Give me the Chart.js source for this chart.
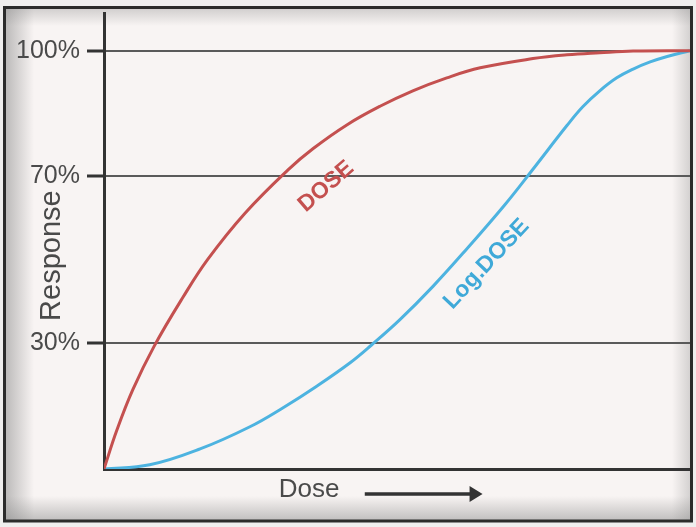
<!DOCTYPE html>
<html>
<head>
<meta charset="utf-8">
<script src="https://cdn.jsdelivr.net/npm/chart.js@4.4.1/dist/chart.umd.min.js"></script>
<style>
  html, body { margin: 0; padding: 0; background: #efeeee; }
  #wrap { width: 696px; height: 527px; }
</style>
</head>
<body>
<div id="wrap"><canvas id="chart"></canvas></div>
<script>
// y axis ticks
const yTickValues = [30, 70, 100];
const yTickLabels = ['30%', '70%', '100%'];

// names of the two curves
const seriesNames = ['DOSE', 'Log.DOSE'];
const axisTitles = ['Dose', 'Response'];

// red curve (response vs dose)
const doseX = [0, 2.2, 4.9, 8.5, 13.5, 17.7, 24.1, 31.4, 35.7, 41.5, 47.1, 52.7, 58.5, 64.2, 73.2, 79, 84.6, 90.3, 100];
const doseY = [0, 9.3, 18.9, 29.2, 41.1, 50.1, 61.2, 71.5, 76.6, 82.3, 86.7, 90.4, 93.5, 95.9, 98.1, 99, 99.5, 99.9, 100];

// blue curve (response vs log dose)
const logDoseX = [0, 7.8, 16.4, 24.9, 30.5, 36.3, 42, 45.7, 50.5, 56.1, 61.9, 68.3, 73, 79, 81.7, 84.6, 87.5, 90.3, 93.2, 96.1, 100];
const logDoseY = [0, 1.0, 4.8, 10.1, 14.6, 19.8, 25.4, 29.7, 35.7, 43.6, 52.6, 63, 71.3, 82.1, 86.6, 90.4, 93.5, 95.6, 97.3, 98.6, 100];

const RED = '#c4504f';
const BLUE = '#4db3e0';
const FONT = '"Liberation Sans", Arial, sans-serif';

const toPoints = (xs, ys) => xs.map((x, i) => ({ x, y: ys[i] }));

// paper background with soft shading at the edges
const paperBackground = {
  id: 'paperBackground',
  beforeDraw(chart) {
    const { ctx, width, height } = chart;
    ctx.save();
    ctx.fillStyle = '#efeeee';
    ctx.fillRect(0, 0, width, height);
    ctx.fillStyle = '#f8f4f3';
    ctx.fillRect(5, 8, 686, 512);

    let g = ctx.createLinearGradient(6, 0, 34, 0);
    g.addColorStop(0, 'rgba(140,140,140,0.55)');
    g.addColorStop(1, 'rgba(140,140,140,0)');
    ctx.fillStyle = g;
    ctx.fillRect(6, 8, 28, 512);

    g = ctx.createLinearGradient(0, 520, 0, 496);
    g.addColorStop(0, 'rgba(140,140,140,0.5)');
    g.addColorStop(1, 'rgba(140,140,140,0)');
    ctx.fillStyle = g;
    ctx.fillRect(6, 496, 685, 24);

    g = ctx.createLinearGradient(0, 9, 0, 26);
    g.addColorStop(0, 'rgba(140,140,140,0.35)');
    g.addColorStop(1, 'rgba(140,140,140,0)');
    ctx.fillStyle = g;
    ctx.fillRect(6, 9, 685, 17);

    g = ctx.createLinearGradient(691, 0, 672, 0);
    g.addColorStop(0, 'rgba(140,140,140,0.35)');
    g.addColorStop(1, 'rgba(140,140,140,0)');
    ctx.fillStyle = g;
    ctx.fillRect(672, 8, 19, 512);
    ctx.restore();
  },
};

// axis titles, arrow, curve labels and the outer frame
const decorations = {
  id: 'decorations',
  afterDraw(chart) {
    const { ctx, chartArea, scales: { x, y } } = chart;
    ctx.save();
    ctx.textAlign = 'center';
    ctx.textBaseline = 'middle';

    // y title
    ctx.fillStyle = '#4a4a4a';
    ctx.font = `29px ${FONT}`;
    ctx.save();
    ctx.translate(chartArea.left - 52, y.getPixelForValue(51));
    ctx.rotate(-Math.PI / 2);
    ctx.fillText(axisTitles[1], 0, 0);
    ctx.restore();

    // x title + arrow
    ctx.font = `26px ${FONT}`;
    const titleY = chartArea.bottom + 21;
    ctx.fillText(axisTitles[0], x.getPixelForValue(35), titleY);
    const ax0 = x.getPixelForValue(44.5);
    const ax1 = x.getPixelForValue(64.6);
    ctx.strokeStyle = '#333';
    ctx.lineWidth = 3.5;
    ctx.beginPath();
    ctx.moveTo(ax0, titleY + 4);
    ctx.lineTo(ax1 - 10, titleY + 4);
    ctx.stroke();
    ctx.fillStyle = '#333';
    ctx.beginPath();
    ctx.moveTo(ax1, titleY + 4);
    ctx.lineTo(ax1 - 13, titleY - 4);
    ctx.lineTo(ax1 - 13, titleY + 12);
    ctx.closePath();
    ctx.fill();

    // curve labels
    ctx.font = `bold 23px ${FONT}`;
    ctx.fillStyle = RED;
    ctx.save();
    ctx.translate(x.getPixelForValue(37.9), y.getPixelForValue(67.5));
    ctx.rotate(-41 * Math.PI / 180);
    ctx.fillText(seriesNames[0], 0, 0);
    ctx.restore();

    ctx.fillStyle = '#3fa9d8';
    ctx.save();
    ctx.translate(x.getPixelForValue(65.3), y.getPixelForValue(49));
    ctx.rotate(-47 * Math.PI / 180);
    ctx.fillText(seriesNames[1], 0, 0);
    ctx.restore();

    // frame
    ctx.strokeStyle = '#2b2b2b';
    ctx.lineWidth = 3;
    ctx.strokeRect(4.5, 7.5, 687, 513.5);
    ctx.restore();
  },
};

const chartConfig = {
  type: 'line',
  data: {
    datasets: [
      {
        label: seriesNames[0],
        data: toPoints(doseX, doseY),
        borderColor: RED,
        borderWidth: 3,
        pointRadius: 0,
        tension: 0.4,
      },
      {
        label: seriesNames[1],
        data: toPoints(logDoseX, logDoseY),
        borderColor: BLUE,
        borderWidth: 3,
        pointRadius: 0,
        tension: 0.4,
      },
    ],
  },
  options: {
    animation: false,
    responsive: true,
    maintainAspectRatio: false,
    layout: { padding: { left: 4, right: 6, top: 13, bottom: 0 } },
    plugins: {
      legend: { display: false },
      tooltip: { enabled: false },
    },
    scales: {
      x: {
        type: 'linear',
        min: 0,
        max: 100,
        grid: { display: false },
        ticks: { display: false },
        border: { display: true, color: '#333', width: 3 },
        afterFit: (scale) => { scale.height = 58; },
      },
      y: {
        type: 'linear',
        min: 0,
        max: 109,
        afterBuildTicks: (scale) => {
          scale.ticks = yTickValues.map((value) => ({ value }));
        },
        afterFit: (scale) => {
          scale.width = 100;
          scale.paddingTop = 0;
          scale.paddingBottom = 0;
        },
        grid: {
          color: '#5a5a5a',
          lineWidth: 2,
          drawTicks: true,
          tickLength: 17,
          tickColor: '#333',
          tickWidth: 3,
        },
        border: { display: true, color: '#333', width: 3 },
        ticks: {
          padding: 7,
          color: '#4a4a4a',
          font: { family: FONT, size: 25 },
          callback: (value) => yTickLabels[yTickValues.indexOf(value)],
        },
      },
    },
  },
  plugins: [paperBackground, decorations],
};

const chart = new Chart(document.getElementById('chart'), chartConfig);
</script>
</body>
</html>
